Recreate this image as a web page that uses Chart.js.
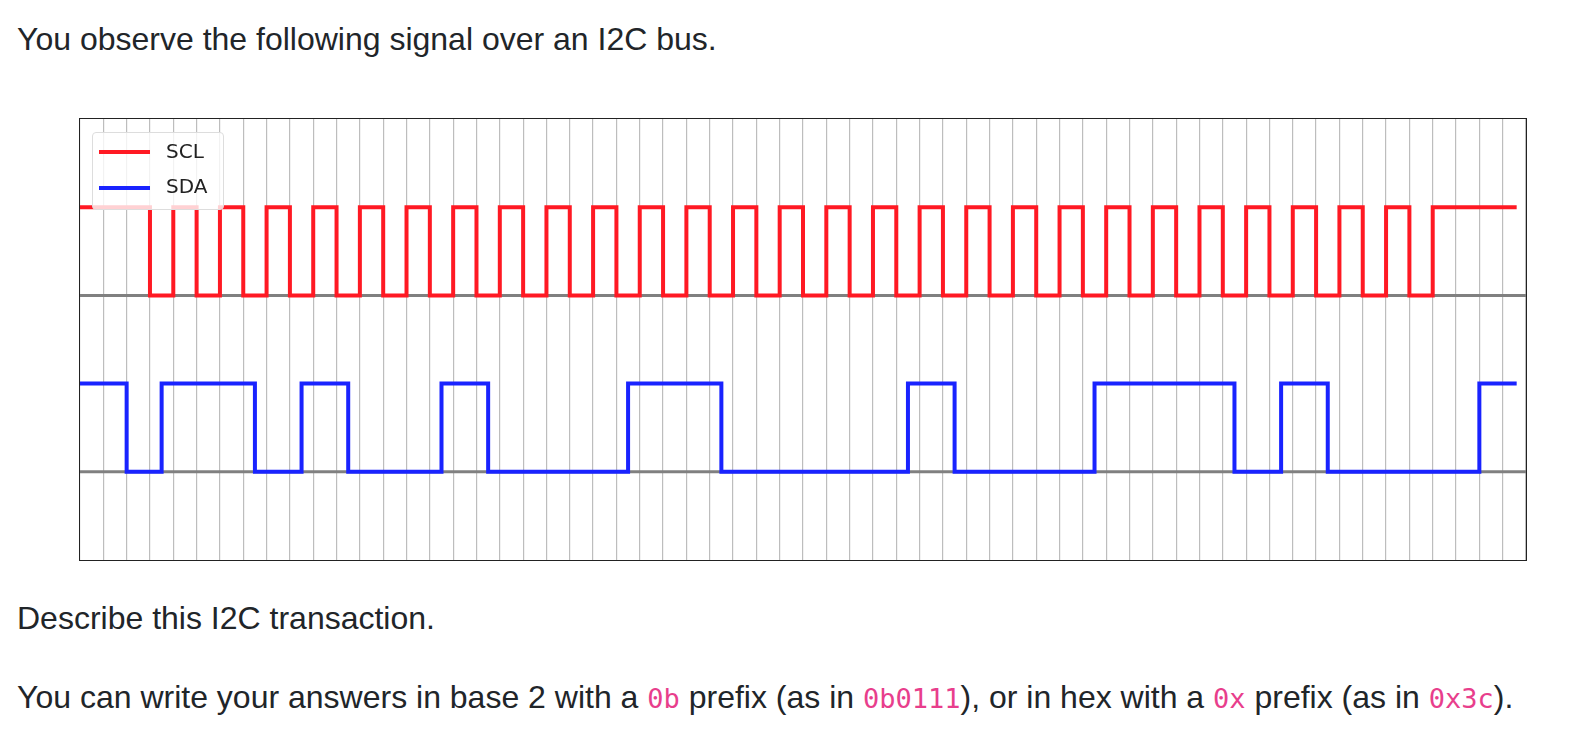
<!DOCTYPE html>
<html><head><meta charset="utf-8">
<script src="https://cdn.jsdelivr.net/npm/chart.js@4.4.0/dist/chart.umd.min.js"></script>
<style>
body{margin:0;background:#fff;font-family:"Liberation Sans",Arial,sans-serif;color:#212529;width:1574px;height:740px;position:relative;overflow:hidden}
.t{position:absolute;left:17px;font-size:32px;white-space:nowrap;line-height:1}
code{font-family:"DejaVu Sans Mono",monospace;color:#e83e8c;font-size:27px}
#box{position:absolute;left:79px;top:118px;width:1446px;height:441px;border:1.5px solid #222}
#leg{position:absolute;left:92px;top:132px;width:130px;height:76px;background:rgba(255,255,255,0.8);border:1px solid #ddd;border-radius:4px;font-family:"DejaVu Sans",sans-serif;font-size:20px;color:#222}
.li{position:absolute;left:6px;width:51px;height:4px}
.lt{position:absolute;left:73px}
</style></head><body>
<div class="t" style="top:23px">You observe the following signal over an I2C bus.</div>
<div id="box"><canvas id="c"></canvas></div>
<div id="leg">
 <div class="li" style="top:17px;background:rgb(255,25,35)"></div><div class="lt" style="top:6px">SCL</div>
 <div class="li" style="top:53px;background:rgb(25,35,255)"></div><div class="lt" style="top:41px">SDA</div>
</div>
<div class="t" style="top:602px">Describe this I2C transaction.</div>
<div class="t" style="top:681px">You can write your answers in base 2 with a <code>0b</code> prefix (as in <code>0b0111</code>), or in hex with a <code>0x</code> prefix (as in <code>0x3c</code>).</div>
<script>
// transition times (time units = clock grid lines) and levels
const tStart = 0, tEnd = 61.6, xMax = 62;
const sclHigh = 3, sclLow = 2;
const sclTransitions = [3,4,5,6,7,8,9,10,11,12,13,14,15,16,17,18,19,20,21,22,23,24,25,26,27,28,29,30,31,32,33,34,35,36,37,38,39,40,41,42,43,44,45,46,47,48,49,50,51,52,53,54,55,56,57,58];
const sdaHigh = 1, sdaLow = 0;
const sdaTransitions = [2,3.5,7.5,9.5,11.5,15.5,17.5,23.5,27.5,35.5,37.5,43.5,49.5,51.5,53.5,60];

function build(trans, hi, lo){
  let lvl = hi; const pts=[{x:tStart,y:lvl}];
  for(const t of trans){ pts.push({x:t,y:lvl}); lvl = (lvl===hi)?lo:hi; pts.push({x:t,y:lvl}); }
  pts.push({x:tEnd,y:lvl}); return pts;
}
const gray='rgb(128,128,128)';
new Chart(document.getElementById('c'),{
  type:'line',
  data:{datasets:[
    {label:'SCL',data:build(sclTransitions,sclHigh,sclLow),borderColor:'rgb(255,25,35)',borderWidth:4,pointRadius:0,order:1},
    {label:'SDA',data:build(sdaTransitions,sdaHigh,sdaLow),borderColor:'rgb(25,35,255)',borderWidth:4,pointRadius:0,order:1},
    {label:'b0',data:[{x:0,y:sdaLow},{x:xMax,y:sdaLow}],borderColor:gray,borderWidth:3,pointRadius:0,order:2},
    {label:'b1',data:[{x:0,y:sclLow},{x:xMax,y:sclLow}],borderColor:gray,borderWidth:3,pointRadius:0,order:2}
  ]},
  options:{responsive:true,maintainAspectRatio:false,animation:false,
    layout:{padding:0},
    plugins:{legend:{display:false},tooltip:{enabled:false}},
    elements:{line:{tension:0,borderCapStyle:'butt',borderJoinStyle:'miter'}},
    scales:{
      x:{type:'linear',min:0,max:xMax,ticks:{display:false,stepSize:1},grid:{color:'#bdbdbd',lineWidth:1.2,drawTicks:false},border:{display:false}},
      y:{min:-1,max:4,ticks:{display:false},grid:{display:false,drawTicks:false},border:{display:false}}
    }}
});
</script>
</body></html>
